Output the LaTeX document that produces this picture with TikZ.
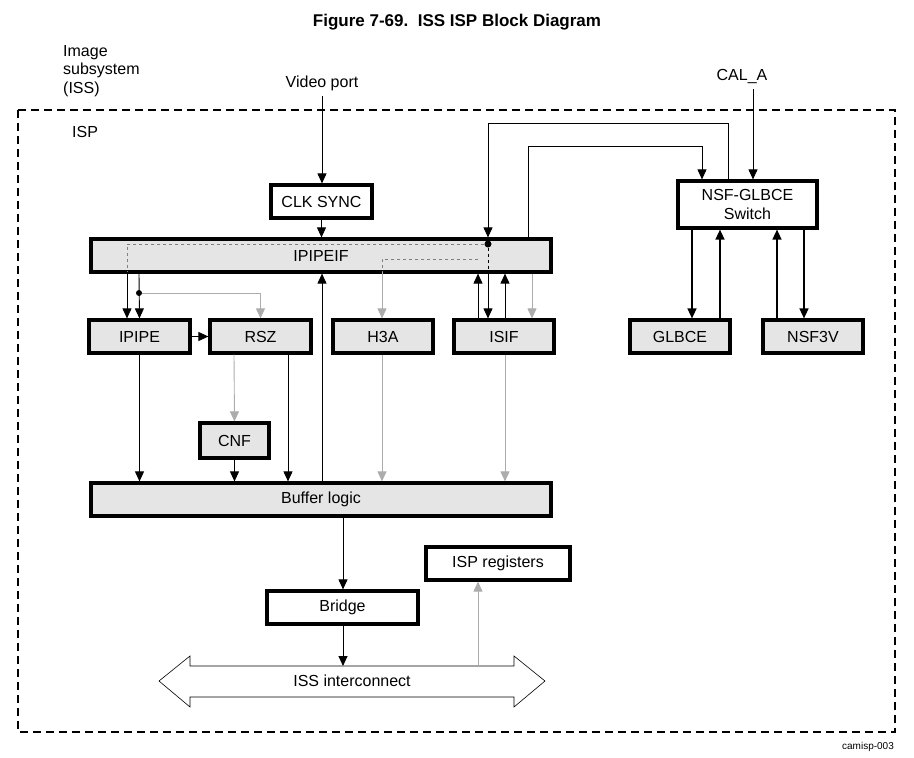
\documentclass[tikz,border=0pt]{standalone}
\usepackage{fontspec}
\setmainfont{Liberation Sans}
\usetikzlibrary{arrows.meta}
\begin{document}
\begin{tikzpicture}[x=1pt,y=-1pt,
  box/.style={draw,line width=3.2pt,fill=gray!20,inner sep=0pt},
  wbox/.style={box,fill=white},
  txt/.style={font=\fontsize{16}{18.5}\selectfont,inner sep=0pt},
  ar/.style={-{Triangle[length=10pt,width=9pt]},line width=0.9pt},
  gar/.style={ar,draw=gray!65},
  dot/.style={circle,fill=black,inner sep=0pt,minimum size=7pt}]
\useasboundingbox (0,0) rectangle (914,758);
\node[font=\bfseries\fontsize{17}{20}\selectfont] (title) at (457,22) {Figure 7-69.\ \ ISS ISP Block Diagram};
\draw[line width=1.4pt,dash pattern=on 8pt off 5pt] (18,110) rectangle (895,732);
\node[txt,align=left,anchor=north west] (iss) at (63,45) {Image\\subsystem\\(ISS)};
\node[txt,anchor=west] (isp) at (72,132) {ISP};
\node[txt] (vp) at (322,83) {Video port};
\node[txt] (cal) at (742,77) {CAL\_A};
\node[font=\fontsize{10}{11}\selectfont] (cam) at (868,747) {camisp-003};
% boxes
\node[wbox,txt,minimum width=101pt,minimum height=33pt] (clk) at (321.5,201.5) {CLK SYNC};
\node[box,txt,minimum width=460pt,minimum height=33pt] (ipipeif) at (321,255.5) {IPIPEIF};
\node[box,txt,minimum width=101pt,minimum height=33pt] (ipipe) at (139.5,336.5) {IPIPE};
\node[box,txt,minimum width=101pt,minimum height=33pt] (rsz) at (260.5,336.5) {RSZ};
\node[box,txt,minimum width=100pt,minimum height=33pt] (h3a) at (383,336.5) {H3A};
\node[box,txt,minimum width=100pt,minimum height=33pt] (isif) at (504,336.5) {ISIF};
\node[box,txt,minimum width=100pt,minimum height=33pt] (glbce) at (680,336.5) {GLBCE};
\node[box,txt,minimum width=100pt,minimum height=33pt] (nsf) at (813,336.5) {NSF3V};
\node[wbox,txt,align=center,minimum width=139pt,minimum height=47pt] (sw) at (747.5,204.5) {NSF-GLBCE\\Switch};
\node[box,txt,minimum width=69pt,minimum height=35pt] (cnf) at (234.5,440.5) {CNF};
\node[box,txt,minimum width=460pt,minimum height=33pt] (buf) at (321,499.5) {Buffer logic};
\node[wbox,txt,minimum width=151pt,minimum height=33pt] (bridge) at (342.5,607.5) {Bridge};
\node[wbox,txt,minimum width=144pt,minimum height=33pt] (reg) at (498,563.5) {ISP registers};
\draw[line width=0.6pt] (159,681) -- (190,656) -- (190,666) -- (514,666) -- (514,656) -- (545,681)
  -- (514,707) -- (514,697) -- (190,697) -- (190,707) -- cycle;
\node[txt] (ic) at (352,681) {ISS interconnect};
\coordinate (icTop) at (343,666);
\coordinate (icReg) at (478,666);
% connectors
\draw[ar] (vp.south) ++(0,5) coordinate (vpb) -- (vpb |- clk.north);
\draw[ar] (clk) -- (clk.south |- ipipeif.north);
\draw[ar] (buf.north -| 322,0) -- (ipipeif.south -| 322,0);
\draw[ar] (cal.south) ++(11,5) coordinate (calb) -- (calb |- sw.north);
% top loop
\coordinate (d1) at (488,244);
\draw[line width=0.9pt] (sw.north -| 728,0) |- (488,123) coordinate (c1);
\draw[ar] (c1) -- (ipipeif.north -| c1);
\node[dot] (dt) at (d1) {};
\draw[dashed,gray,line width=0.9pt] (dt) -- (127,244) -- (127,272);
\draw[ar] (127,272) -- (ipipe.north -| 127,0);
\draw[dashed,black,line width=0.8pt] (dt) -- (488,272);
\draw[ar] (488,272) -- (isif.north -| 488,0);
\draw[ar] (ipipeif.north -| 528,0) |- (702,146) -- (sw.north -| 702,0);
% ipipe / rsz
\draw[ar] (ipipeif.south -| 139,0) -- (ipipe.north);
\node[dot,minimum size=6pt] (d2) at (139,293) {};
\draw[gar] (d2) -| (rsz.north);
\draw[ar] (ipipe) -- (rsz);
% h3a dashed
\draw[dashed,gray,line width=0.9pt] (478,259) -- (382,259) -- (382,272);
\draw[gar] (382,272) -- (h3a.north -| 382,0);
% isif
\draw[ar] (isif.north -| 478,0) -- (ipipeif.south -| 478,0);
\draw[ar] (isif.north -| 505,0) -- (ipipeif.south -| 505,0);
\draw[gar] (ipipeif.south -| 532,0) -- (isif.north -| 532,0);
% switch
\draw[ar,line width=1.5pt] (sw.south -| 692,0) -- (glbce.north -| 692,0);
\draw[ar,line width=1.5pt] (glbce.north -| 720,0) -- (sw.south -| 720,0);
\draw[ar,line width=1.5pt] (nsf.north -| 777,0) -- (sw.south -| 777,0);
\draw[ar,line width=1.5pt] (sw.south -| 804,0) -- (nsf.north -| 804,0);
% to buffer
\draw[ar] (ipipe.south) -- (buf.north -| ipipe.south);
\draw[gar] (rsz.south -| 234,0) -- (cnf.north);
\draw[ar] (cnf.south) -- (buf.north -| cnf.south);
\draw[ar] (rsz.south -| 288,0) -- (buf.north -| 288,0);
\draw[gar] (h3a.south -| 382,0) -- (buf.north -| 382,0);
\draw[gar] (isif.south -| 505,0) -- (buf.north -| 505,0);
% bottom
\draw[ar] (buf.south -| 343,0) -- (bridge.north -| 343,0);
\draw[ar] (bridge.south -| 343,0) -- (icTop);
\draw[gar] (icReg) -- (reg.south -| 478,0);
\end{tikzpicture}
\end{document}
